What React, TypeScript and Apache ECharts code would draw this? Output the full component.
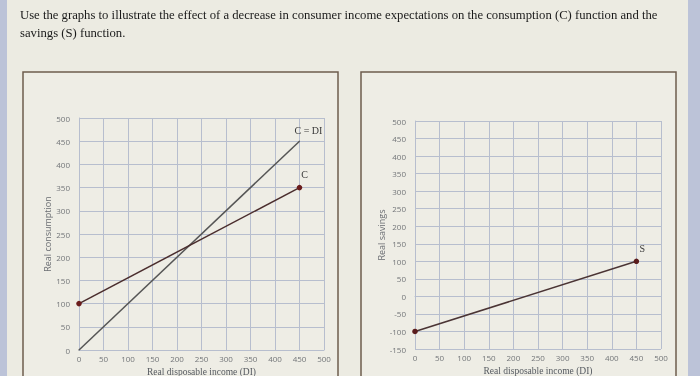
import React, { useEffect, useRef } from "react";
import * as echarts from "echarts";

const xTicks = [0, 50, 100, 150, 200, 250, 300, 350, 400, 450, 500];
const consumptionEqualsIncome: [number, number][] = [[0, 0], [450, 450]];
const consumption: [number, number][] = [[0, 100], [450, 350]];
const savings: [number, number][] = [[0, -100], [450, 100]];
const titleLine1 =
  "Use the graphs to illustrate the effect of a decrease in consumer income expectations on the consumption (C) function and the";
const titleLine2 = "savings (S) function.";

const gridColor = "#b7bece";
const labelColor = "#737679";

export default function App() {
  const ref = useRef<HTMLDivElement>(null);
  useEffect(() => {
    if (!ref.current) return;
    const chart = echarts.init(ref.current, null, { renderer: "svg" });
    const xAxisBase = (gridIndex: number) => ({
      type: "value" as const,
      gridIndex,
      min: xTicks[0],
      max: xTicks[xTicks.length - 1],
      interval: xTicks[1] - xTicks[0],
      name: "Real disposable income (DI)",
      nameLocation: "middle" as const,
      nameGap: 11,
      nameTextStyle: { fontFamily: "Liberation Serif", fontSize: 9.5, color: "#555a60", lineHeight: 10 },
      axisLine: { show: true, lineStyle: { color: gridColor } },
      axisTick: { show: false },
      axisLabel: { fontFamily: "Open Sans", fontSize: 8, color: labelColor, margin: 4 },
      splitLine: { show: true, lineStyle: { color: gridColor, width: 1 } },
    });
    const yAxisBase = (gridIndex: number, min: number, name: string) => ({
      type: "value" as const,
      gridIndex,
      min,
      max: 500,
      interval: 50,
      name,
      nameLocation: "middle" as const,
      nameGap: 25,
      nameTextStyle: { fontFamily: "Open Sans", fontSize: 9, color: "#6a6d72" },
      axisLine: { show: true, lineStyle: { color: gridColor } },
      axisTick: { show: false },
      axisLabel: { fontFamily: "Open Sans", fontSize: 8, color: labelColor, margin: 9 },
      splitLine: { show: true, lineStyle: { color: gridColor, width: 1 } },
    });
    const serifLabel = {
      fontFamily: "Liberation Serif",
      fontSize: 10,
      color: "#3a3a3a",
    };
    chart.setOption({
      animation: false,
      graphic: [
        { type: "rect", shape: { x: 0, y: 0, width: 700, height: 376 }, style: { fill: "#bcc3d8" }, z: -10 },
        { type: "rect", shape: { x: 7, y: 0, width: 681, height: 376 }, style: { fill: "#ecebe2" }, z: -9 },
        {
          type: "rect",
          shape: { x: 23, y: 72, width: 315, height: 320 },
          style: { fill: "#eeede5", stroke: "#6e5d4e", lineWidth: 1.5 },
          z: -8,
        },
        {
          type: "rect",
          shape: { x: 361, y: 72, width: 315, height: 320 },
          style: { fill: "#eeede5", stroke: "#6e5d4e", lineWidth: 1.5 },
          z: -8,
        },
        {
          type: "text",
          x: 20,
          y: 15,
          style: {
            text: titleLine1,
            fontFamily: "Liberation Serif",
            fontSize: 12.7,
            fill: "#1a1a1a",
            verticalAlign: "middle",
          },
        },
        {
          type: "text",
          x: 20,
          y: 33,
          style: {
            text: titleLine2,
            fontFamily: "Liberation Serif",
            fontSize: 12.7,
            fill: "#1a1a1a",
            verticalAlign: "middle",
          },
        },
      ],
      grid: [
        { left: 79, top: 118, width: 245, height: 232, outerBoundsMode: "none", containLabel: false },
        { left: 415, top: 121, width: 246, height: 228, outerBoundsMode: "none", containLabel: false },
      ],
      xAxis: [xAxisBase(0), xAxisBase(1)],
      yAxis: [
        yAxisBase(0, 0, "Real consumption"),
        yAxisBase(1, -150, "Real savings"),
      ],
      series: [
        {
          type: "line",
          xAxisIndex: 0,
          yAxisIndex: 0,
          data: consumptionEqualsIncome.map((p, i) =>
            i === consumptionEqualsIncome.length - 1
              ? {
                  value: p,
                  label: { show: true, formatter: "C = DI", position: "top", distance: 5, offset: [9, 0], ...serifLabel },
                }
              : { value: p }
          ),
          showSymbol: true,
          symbol: "circle",
          symbolSize: 1,
          itemStyle: { color: "#555555" },
          lineStyle: { color: "#555555", width: 1.5 },
        },
        {
          type: "line",
          xAxisIndex: 0,
          yAxisIndex: 0,
          data: consumption.map((p, i) =>
            i === consumption.length - 1
              ? {
                  value: p,
                  label: { show: true, formatter: "C", position: "top", distance: 5, offset: [5, 0], ...serifLabel },
                }
              : { value: p }
          ),
          symbol: "circle",
          symbolSize: 5.5,
          itemStyle: { color: "#6a1c1c" },
          lineStyle: { color: "#4a2d2d", width: 1.5 },
        },
        {
          type: "line",
          xAxisIndex: 1,
          yAxisIndex: 1,
          data: savings.map((p, i) =>
            i === savings.length - 1
              ? {
                  value: p,
                  label: { show: true, formatter: "S", position: "top", distance: 5, offset: [6, 0], ...serifLabel },
                }
              : { value: p }
          ),
          symbol: "circle",
          symbolSize: 5.5,
          itemStyle: { color: "#5a1c1c" },
          lineStyle: { color: "#4a3434", width: 1.5 },
        },
      ],
    });
    return () => chart.dispose();
  }, []);
  return (
    <div
      ref={ref}
      style={{ position: "fixed", left: 0, top: 0, width: 700, height: 376 }}
    />
  );
}
